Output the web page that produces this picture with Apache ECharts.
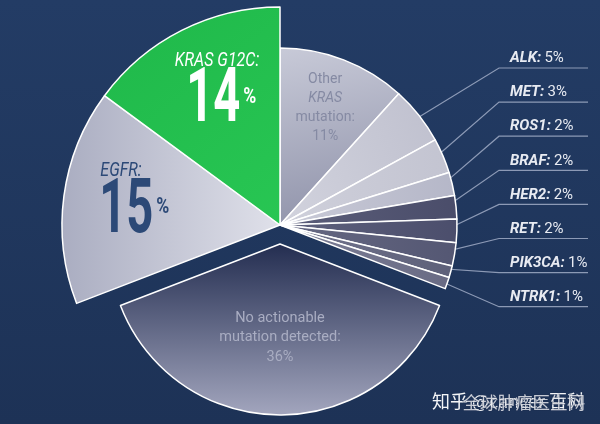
<!DOCTYPE html>
<html><head><meta charset="utf-8">
<script src="https://cdn.jsdelivr.net/npm/echarts@6/dist/echarts.min.js"></script>
<style>html,body{margin:0;padding:0;background:#1f365c}#c{width:600px;height:424px}</style>
</head><body><div id="c"></div>
<script>
// ---- data ----
const categories = ['Other KRAS mutation','ALK','MET','ROS1','BRAF','HER2','RET','PIK3CA','NTRK1','No actionable mutation detected','EGFR','KRAS G12C'];
const values = [11,5,3,2,2,2,2,1,1,36,15,14];
const rightLabelNames = ['ALK','MET','ROS1','BRAF','HER2','RET','PIK3CA','NTRK1'];
const bigSlices = ['EGFR','KRAS G12C'];
const explodedSlice = 'No actionable mutation detected';
const bigTitles = {'EGFR':'EGFR:', 'KRAS G12C':'KRAS G12C:'};

// ---- styles / layout ----
const CX = 280, CY = 225, R_MAIN = 177, R_BIG = 218, R_NONE = 171, NONE_DY = 19;
const LABEL_X = 510, ROW0 = 68, ROWH = 34.1, KNEE_X = 499, END_X = 588;
const FONT = "'Roboto','Noto Sans',sans-serif";
function lg(c1, c2, x, y, x2, y2){ return {type:'linear', x:x, y:y, x2:x2, y2:y2, colorStops:[{offset:0,color:c1},{offset:1,color:c2}]}; }
const sliceColors = {
  'Other KRAS mutation': lg('#c8cad8','#9194ab',0,0,0.3,1),
  'ALK': lg('#d0d1dc','#c0c1cf',0,0.6,1,0.2),
  'MET': lg('#cfd0db','#c3c4d1',0,0.5,1,0.5),
  'ROS1': lg('#c9cad7','#b5b7c8',0,0.5,1,0.5),
  'BRAF': lg('#5c5e7a','#4a4d6a',0,0.5,1,0.5),
  'HER2': lg('#5f617d','#4b4e6c',0,0.5,1,0.5),
  'RET': lg('#676983','#545773',0,0.5,1,0.5),
  'PIK3CA': lg('#73758e','#5d6079',0,0.5,1,0.5),
  'NTRK1': lg('#7d7f97','#696b84',0,0.5,1,0.5),
  'No actionable mutation detected': lg('#232d50','#a3a6be',0,0,0,1),
  'EGFR': lg('#aaadc1','#e0e1ea',0,0.5,1,0.5),
  'KRAS G12C': lg('#1fb84a','#28c653',0,0,1,1)
};
const bigLabelStyle = {
  'KRAS G12C': {color:'#ffffff', r:148, side:'right', title:[46,-32], num:[27,9], pct:[30,5]},
  'EGFR':      {color:'#2c4977', r:150, side:'left',  title:[-31,-34], num:[-32,8], pct:[25,2]}
};
const TRANSPARENT = 'rgba(0,0,0,0)';
const total = values.reduce((a,b)=>a+b,0);
function midAngle(i){ let c=0; for(let k=0;k<i;k++) c+=values[k]; return (90 - (c + values[i]/2)/total*360) * Math.PI/180; }
function polar(i, r, cy){ const a = midAngle(i); return [CX + r*Math.cos(a), (cy==null?CY:cy) - r*Math.sin(a)]; }

function makeData(isVisible, labelFor){
  return categories.map((name,i)=>{
    const vis = isVisible(name);
    const item = {name:name, value:values[i]};
    item.itemStyle = vis ? {color:sliceColors[name], borderColor:'#ffffff', borderWidth:1.5}
                         : {color:TRANSPARENT, borderWidth:0};
    const lab = vis ? labelFor(name, i) : null;
    item.label = lab || {show:false};
    item.labelLine = {show: vis && rightLabelNames.indexOf(name) >= 0};
    return item;
  });
}

const chart = echarts.init(document.getElementById('c'), null, {renderer:'canvas'});

const mainData = makeData(n => bigSlices.indexOf(n) < 0 && n !== explodedSlice, (name)=>{
  if (rightLabelNames.indexOf(name) >= 0) {
    return {show:true, position:'outside', formatter: p => '{n|' + p.name + ':} {v|' + p.value + '%}',
      rich:{ n:{fontFamily:FONT, fontStyle:'italic', fontWeight:'bold', fontSize:15, color:'#e8ebf2'},
             v:{fontFamily:FONT, fontSize:15, color:'#e8ebf2'} } };
  }
  return {show:true, position:'inside',
    formatter: p => 'Other\n{i|KRAS}\nmutation:\n' + p.value + '%',
    color:'#858aa3', fontFamily:FONT, fontSize:14, lineHeight:19,
    rich:{ i:{fontFamily:FONT, fontStyle:'italic', fontSize:14, color:'#858aa3', lineHeight:19} } };
});

const bigData = makeData(n => bigSlices.indexOf(n) >= 0, () => null);

const noneData = makeData(n => n === explodedSlice, ()=>({
  show:true, position:'inside',
  formatter: p => 'No actionable\nmutation detected:\n' + p.value + '%',
  color:'#a9adc2', fontFamily:FONT, fontSize:14.5, lineHeight:19.5
}));

// condensed big labels (text from data, position from slice mid-angle)
const graphics = [];
bigSlices.forEach(name=>{
  const i = categories.indexOf(name);
  const s = bigLabelStyle[name];
  const a = polar(i, s.r);
  graphics.push({type:'text', x:a[0]+s.title[0], y:a[1]+s.title[1], scaleX:0.8, silent:true, z:100,
    style:{text:bigTitles[name], x:0, y:0, fill:s.color, font:"italic 20px 'Roboto'", textAlign:s.side, textVerticalAlign:'middle'}});
  graphics.push({type:'text', x:a[0]+s.num[0], y:a[1]+s.num[1], scaleX:0.62, silent:true, z:100,
    style:{text:String(values[i]), x:0, y:0, fill:s.color, font:"bold 76px 'Roboto'", textAlign:s.side, textVerticalAlign:'middle'}});
  graphics.push({type:'text', x:a[0]+s.pct[0], y:a[1]+s.pct[1], scaleX:0.8, silent:true, z:100,
    style:{text:'%', x:0, y:0, fill:s.color, font:"bold 22px 'Roboto'", textAlign:'left', textVerticalAlign:'middle'}});
});
graphics.push({type:'text', left:432, top:392, silent:true, z:100, style:{text:'知乎 @cancer 百科', fill:'rgba(255,255,255,0.95)', font:"18px 'Noto Sans CJK SC', sans-serif", shadowColor:'rgba(0,0,0,0.7)', shadowBlur:2, shadowOffsetX:1, shadowOffsetY:1}});
graphics.push({type:'text', left:462, top:393, silent:true, z:101, style:{text:'全球肿瘤医生网', fill:'rgba(255,255,255,0.75)', stroke:'rgba(30,45,80,0.6)', lineWidth:1, font:"17.5px 'Noto Sans CJK SC', sans-serif"}});

const common = { type:'pie', startAngle:90, clockwise:true, avoidLabelOverlap:false, silent:true,
  emphasis:{disabled:true}, animation:false, minAngle:0 };

chart.setOption({
  backgroundColor: lg('#233c65','#1d3256',0,0,0,1),
  series:[
    Object.assign({}, common, {
      name:'main', center:[CX, CY], radius:[0, R_MAIN], data: mainData,
      labelLine:{show:true, length:10, length2:10, lineStyle:{color:'rgba(160,172,198,0.85)', width:1.2}},
      labelLayout: function(p){
        const name = categories[p.dataIndex];
        const row = rightLabelNames.indexOf(name);
        if (row >= 0) {
          const ly = ROW0 + row*ROWH;
          const s = polar(p.dataIndex, R_MAIN*0.93);
          return {x:LABEL_X, y:ly-2, align:'left', verticalAlign:'bottom',
                  labelLinePoints:[s, [KNEE_X, ly], [END_X, ly]]};
        }
        if (name === 'Other KRAS mutation') {
          const q = polar(p.dataIndex, R_MAIN*0.71);
          return {x:q[0], y:q[1], align:'center', verticalAlign:'middle'};
        }
        return {};
      }
    }),
    Object.assign({}, common, {
      name:'big', center:[CX, CY], radius:[0, R_BIG], data: bigData
    }),
    Object.assign({}, common, {
      name:'none', center:[CX, CY+NONE_DY], radius:[0, R_NONE], data: noneData,
      labelLayout: function(){ return {dy:5}; }
    })
  ],
  graphic: graphics
});
</script>
</body></html>
